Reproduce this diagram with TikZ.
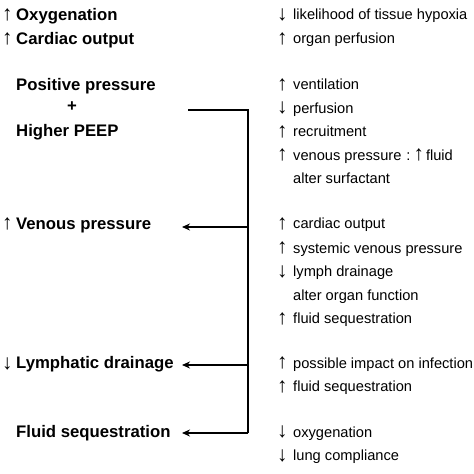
\documentclass[tikz,border=0pt]{standalone}
\usepackage{fontspec}
\setmainfont{Liberation Sans}
\usepackage{tikz}
\usetikzlibrary{arrows.meta}
\tikzstyle{cause}=[anchor=base west, inner sep=0pt, font=\fontsize{16.8}{18}\selectfont\bfseries]
\tikzstyle{effect}=[anchor=base west, inner sep=0pt, font=\fontsize{14.7}{16}\selectfont]
\tikzstyle{basic arrow}=[line width=1.2bp, -{Stealth[length=8bp,width=7bp]}]
\newcommand{\arrowglyph}[1]{\raisebox{-0.5bp}{\fontsize{21}{21}\selectfont\bfseries #1}}
\newcommand{\upB}{\makebox[13bp][l]{\hspace*{-1bp}\arrowglyph{↑}}}
\newcommand{\dnB}{\makebox[13bp][l]{\hspace*{-1bp}\arrowglyph{↓}}}
\newcommand{\upR}{\makebox[16bp][l]{\arrowglyph{↑}}}
\newcommand{\dnR}{\makebox[16bp][l]{\arrowglyph{↓}}}

\begin{document}
\begin{tikzpicture}[x=1bp, y=-1bp]
		\useasboundingbox (0,0) rectangle (474,474);

		% causes
		\node [style=cause] (oxy) at (3, 20.5) {\upB Oxygenation};
		\node [style=cause] (co) at (3, 44.3) {\upB Cardiac output};
		\node [style=cause] (pp) at (16, 90.7) {Positive pressure};
		\node [style=cause] (plus) at (67, 112) {+};
		\node [style=cause] (peep) at (16, 136.7) {Higher PEEP};
		\node [style=cause] (vp) at (3, 229.3) {\upB Venous pressure};
		\node [style=cause] (ld) at (3, 368.5) {\dnB Lymphatic drainage};
		\node [style=cause] (fs) at (16, 437) {Fluid sequestration};

		% effects
		\node [style=effect] (e1) at (277, 20) {\dnR likelihood of tissue hypoxia};
		\node [style=effect] (e2) at (277, 44) {\upR organ perfusion};
		\node [style=effect] (e3) at (277, 90) {\upR ventilation};
		\node [style=effect] (e4) at (277, 113.5) {\dnR perfusion};
		\node [style=effect] (e5) at (277, 137) {\upR recruitment};
		\node [style=effect] (e6) at (277, 160.5) {\upR venous pressure\hspace{5bp}:\hspace{3bp}\arrowglyph{↑}\hspace{2bp}fluid};
		\node [style=effect] (e7) at (277, 184) {\hspace*{16bp}alter surfactant};
		\node [style=effect] (e8) at (277, 229) {\upR cardiac output};
		\node [style=effect] (e9) at (277, 253) {\upR systemic venous pressure};
		\node [style=effect] (e10) at (277, 276.5) {\dnR lymph drainage};
		\node [style=effect] (e11) at (277, 300) {\hspace*{16bp}alter organ function};
		\node [style=effect] (e12) at (277, 323.5) {\upR fluid sequestration};
		\node [style=effect] (e13) at (277, 368) {\upR possible impact on infection};
		\node [style=effect] (e14) at (277, 391.5) {\upR fluid sequestration};
		\node [style=effect] (e15) at (277, 437) {\dnR oxygenation};
		\node [style=effect] (e16) at (277, 460.5) {\dnR lung compliance};

		% connectors
		\coordinate (src) at (188, 110);
		\coordinate (top) at (248, 110);
		\coordinate (bot) at (248, 433);
		\coordinate (t1) at (248, 227);
		\coordinate (t2) at (248, 365);
		\coordinate (h1) at (182, 227);
		\coordinate (h2) at (182, 365);
		\coordinate (h3) at (182, 433);

		\draw [line width=1.2bp] (src) to (top) to (bot);
		\draw [style=basic arrow] (t1) to (h1);
		\draw [style=basic arrow] (t2) to (h2);
		\draw [style=basic arrow] (bot) to (h3);

\end{tikzpicture}
\end{document}
